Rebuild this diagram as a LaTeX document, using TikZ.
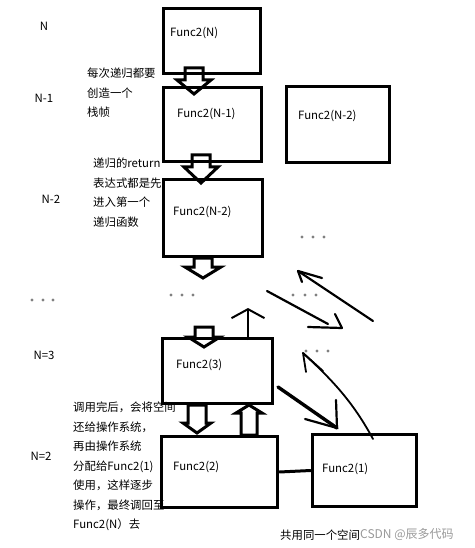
\documentclass[tikz,border=0pt]{standalone}
\usepackage{fontspec}
\setmainfont{Noto Sans CJK SC}
\usetikzlibrary{arrows.meta}
\begin{document}
\begin{tikzpicture}[x=1pt,y=-1pt,
				every node/.style={inner sep=0pt,font=\fontsize{11.4}{19.5}\selectfont},
				box/.style={draw,line width=3.4pt},
				hollow/.style={line width=3pt,line join=miter},
				pen/.style={line width=2.2pt,line cap=round,line join=round},
				dot/.style={fill=black!50}]
\useasboundingbox (0,0) rectangle (474,548);
% frames
\node[box,minimum width=97pt,minimum height=65pt] (fn) at (212,41) {};
\node[box,minimum width=98pt,minimum height=74pt] (fn1) at (212.5,124.5) {};
\node[box,minimum width=103pt,minimum height=76pt] (fn2r) at (338,124.5) {};
\node[box,minimum width=99pt,minimum height=77pt] (fn2) at (213,218) {};
\node[box,minimum width=110pt,minimum height=65pt] (f3) at (217.5,371) {};
\node[box,minimum width=116pt,minimum height=71pt] (f2) at (219.5,472) {};
\node[box,minimum width=104pt,minimum height=72pt] (f1) at (364.5,470.5) {};
\node[anchor=west] (tn) at (170,33) {Func2(N)};
\node[anchor=west] (tn1) at (177,114) {Func2(N-1)};
\node[anchor=west] (tn2r) at (298,116) {Func2(N-2)};
\node[anchor=west] (tn2) at (173,212) {Func2(N-2)};
\node[anchor=west] (t3) at (176,365) {Func2(3)};
\node[anchor=west] (t2) at (173,467) {Func2(2)};
\node[anchor=west] (t1) at (322,469) {Func2(1)};
% levels
\node (ln) at (44,26) {N};
\node (ln1) at (44,98) {N-1};
\node (ln2) at (51,199) {N-2};
\node (l3) at (44,355) {N=3};
\node (l2) at (41,456) {N=2};
% notes
\node[anchor=north west,align=left] (nstack) at (87,68) {每次递归都要\\创造一个\\栈帧};
\node[anchor=north west,align=left] (nret) at (93,158) {递归的return\\表达式都是先\\进入第一个\\递归函数};
\node[anchor=north west,align=left] (nback) at (73,402) {调用完后，会将空间\\还给操作系统，\\再由操作系统\\分配给Func2(1)\\使用，这样逐步\\操作，最终调回至\\Func2(N）去};
\node[anchor=west] (nshare) at (280,535) {共用同一个空间};
\node[anchor=west,text=black!40,font=\fontsize{12}{14}\selectfont] (mark) at (360,534) {CSDN @辰多代码};
% hollow arrows
\foreach \x/\t/\b/\p/\s/\h in {194/68/80/94/9/17, 201/155/167/183/9/17,
		203/258/267/278/9/18, 204/327/337/347/9/16, 197/405/423/433/9/14, 249/435/413/405/8/13}
	\draw[hollow] (\x-\s,\t) -- (\x-\s,\b) -- (\x-\h,\b) -- (\x,\p) -- (\x+\h,\b) -- (\x+\s,\b) -- (\x+\s,\t) -- cycle;
% shared frame
\draw[line width=3pt] (f2.east) -- (f1.west);
% return arrow
\coordinate (up) at (248,308);
\draw[line width=2pt,-{Straight Barb[length=9pt,width=33pt]}] (248,340) -- (up);
% hand drawn strokes
\draw[pen] (267,291) -- (328,324);
\draw[pen] (335,314) -- (342,328) -- (308,327);
\draw[pen] (373,321) -- (298,271);
\draw[pen] (302,282) -- (298,271) -- (322,278);
\draw[pen,line width=3.4pt] (278,387) -- (337,428);
\draw[pen] (305,419) -- (337,428) -- (336,400);
\draw[pen,line width=1.8pt] (373,439) .. controls (352,400) and (330,378) .. (303,353);
\draw[pen,line width=1.8pt] (323,371) -- (303,353) -- (306,372);
% dots
\foreach \x/\y in {32/300, 43/300, 53/300, 171/295, 182/295, 193/295, 293/295, 305/295, 316/295,
		306/351, 317/351, 328/351, 302/237, 313/237, 324/237}
	\fill[dot] (\x,\y) circle (1.6pt);
\end{tikzpicture}
\end{document}
